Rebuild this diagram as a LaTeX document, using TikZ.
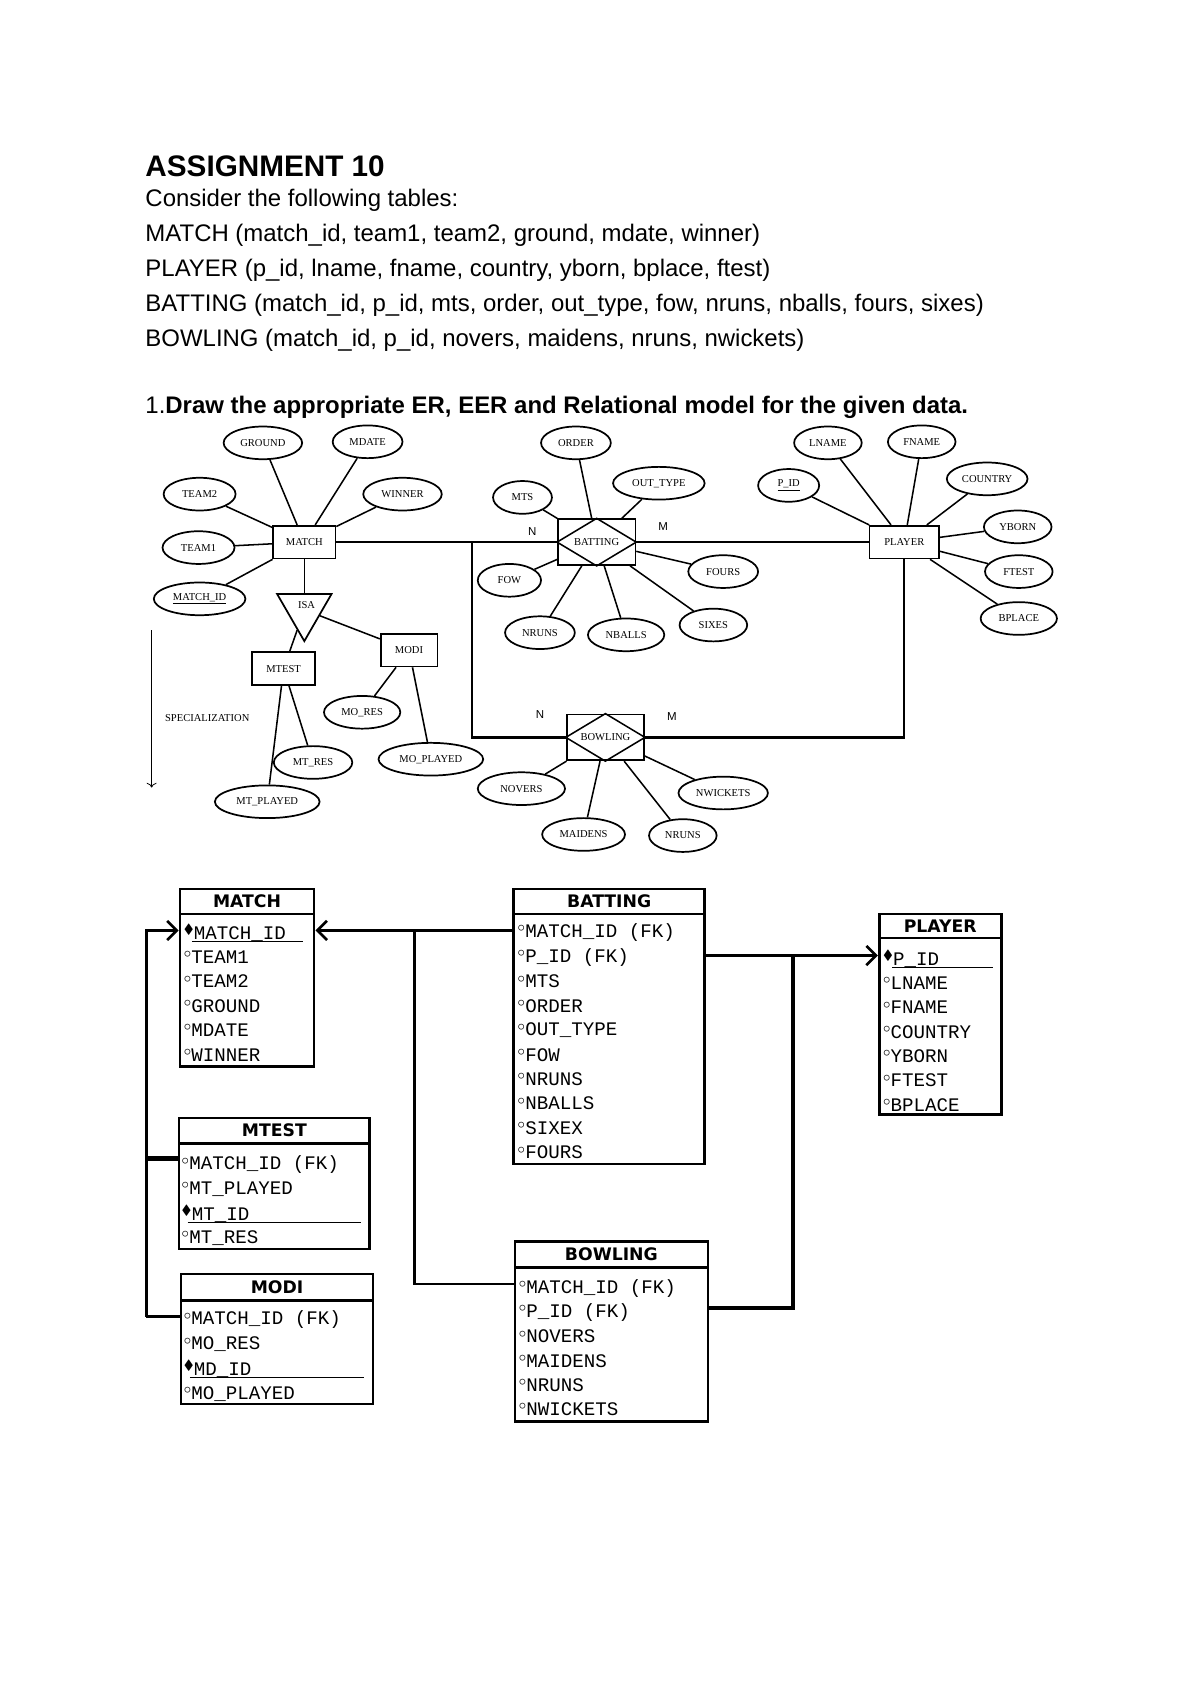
\documentclass[tikz,border=0pt]{standalone}
\usepackage{amssymb}
\usepackage{fontspec}
\setmainfont{Liberation Sans}
\newfontfamily\erfont{Liberation Serif}
\newfontfamily\colfont{Liberation Mono}
\newfontfamily\headfont{DejaVu Sans}
\usetikzlibrary{shapes.geometric,fit,arrows.meta}
\newcommand\keymk{\raisebox{3pt}{\scriptsize$\blacklozenge$}}
\newcommand\optmk{\raisebox{3pt}{\scriptsize$\circ$}}

\begin{document}
\begin{tikzpicture}[x=0.02cm, y=-0.02cm,
attr_style/.style={ellipse,draw=black,line width=0.9pt,minimum height=0.6cm,inner sep=1pt,font=\erfont\fontsize{5.5}{6}\selectfont},
ent_style/.style={rectangle,draw=black,line width=0.9pt,minimum height=0.6cm,font=\erfont\fontsize{5.5}{6}\selectfont},
rel_style/.style={rectangle,draw=black,line width=0.9pt,minimum width=1.42cm,minimum height=0.84cm,font=\erfont\fontsize{5.5}{6}\selectfont},
edge_style/.style={draw=black,line width=0.8pt},
card_style/.style={font=\fontsize{6}{7}\selectfont},
line_style/.style={anchor=west,inner sep=0pt,font=\fontsize{12.5}{14}\selectfont},
box_style/.style={draw=black,line width=1.4pt,inner sep=0pt},
title_style/.style={font=\headfont\bfseries\fontsize{9}{10}\selectfont},
row_style/.style={anchor=west,inner sep=0pt,font=\colfont\fontsize{10}{11}\selectfont},
link_style/.style={draw=black,line width=1.4pt},
tip_style/.style={-{Straight Barb[length=5pt,width=10pt,line width=1.4pt]}}]
\useasboundingbox (0,0) rectangle (1100,1553);

% question text
\node[line_style,font=\bfseries\fontsize{15.5}{17}\selectfont] (title) at (133,152) {ASSIGNMENT 10};
\node[line_style] (l1) at (133,184) {Consider the following tables:};
\node[line_style] (l2) at (133,216) {MATCH (match\_id, team1, team2, ground, mdate, winner)};
\node[line_style] (l3) at (133,248) {PLAYER (p\_id, lname, fname, country, yborn, bplace, ftest)};
\node[line_style] (l4) at (133,280) {BATTING (match\_id, p\_id, mts, order, out\_type, fow, nruns, nballs, fours, sixes)};
\node[line_style] (l5) at (133,312) {BOWLING (match\_id, p\_id, novers, maidens, nruns, nwickets)};
\node[line_style] (q1) at (133,373) {1.\textbf{Draw the appropriate ER, EER and Relational model for the given data.}};

% ER / EER model
\node[ent_style,minimum width=1.14cm] (match) at (279,497) {MATCH};
\node[attr_style,minimum width=1.44cm] (ground) at (241,406) {GROUND};
\node[attr_style,minimum width=1.28cm] (mdate) at (337,405) {MDATE};
\node[attr_style,minimum width=1.32cm] (team2) at (183,453) {TEAM2};
\node[attr_style,minimum width=1.44cm] (winner) at (369,453) {WINNER};
\node[attr_style,minimum width=1.32cm] (team1) at (182,502) {TEAM1};
\node[attr_style,minimum width=1.68cm] (matchid) at (183,549) {\underline{MATCH\_ID}};
\node[draw=black,line width=0.9pt,regular polygon,regular polygon sides=3,shape border rotate=180,minimum size=1.15cm,inner sep=0pt,font=\erfont\fontsize{5.5}{6}\selectfont] (isa) at (279,559) {};
\node[font=\erfont\fontsize{5.5}{6}\selectfont] (isalbl) at (281,555) {ISA};
\node[ent_style,minimum width=1.16cm] (mtest) at (260,613) {MTEST};
\node[ent_style,minimum width=1.04cm] (modi) at (375,596) {MODI};
\node[attr_style,minimum width=1.4cm] (mores) at (332,653) {MO\_RES};
\node[attr_style,minimum width=1.92cm] (moplayed) at (395,696) {MO\_PLAYED};
\node[attr_style,minimum width=1.44cm] (mtres) at (287,699) {MT\_RES};
\node[attr_style,minimum width=1.92cm] (mtplayed) at (245,735) {MT\_PLAYED};
\coordinate (sp1) at (139,578);
\coordinate (sp2) at (139,722);
\node[font=\erfont\fontsize{5.5}{6}\selectfont] (spec) at (190,658) {SPECIALIZATION};

\node[rel_style] (bat) at (547,497) {BATTING};
\node[attr_style,minimum width=1.28cm] (order) at (528,406) {ORDER};
\node[attr_style,minimum width=1.68cm] (outtype) at (604,443) {OUT\_TYPE};
\node[attr_style,minimum width=1.08cm] (mts) at (479,456) {MTS};
\node[attr_style,minimum width=1.16cm] (fow) at (467,532) {FOW};
\node[attr_style,minimum width=1.28cm] (bnruns) at (495,580) {NRUNS};
\node[attr_style,minimum width=1.4cm] (nballs) at (574,582) {NBALLS};
\node[attr_style,minimum width=1.24cm] (sixes) at (654,573) {SIXES};
\node[attr_style,minimum width=1.28cm] (fours) at (663,524) {FOURS};
\node[card_style] (bn) at (488,487) {N};
\node[card_style] (bm) at (608,483) {M};

\node[ent_style,minimum width=1.28cm] (player) at (829,497) {PLAYER};
\node[attr_style,minimum width=1.12cm] (pid) at (723,445) {\underline{P\_ID}};
\node[attr_style,minimum width=1.24cm] (lname) at (759,406) {LNAME};
\node[attr_style,minimum width=1.24cm] (fname) at (845,405) {FNAME};
\node[attr_style,minimum width=1.48cm] (country) at (905,439) {COUNTRY};
\node[attr_style,minimum width=1.24cm] (yborn) at (933,483) {YBORN};
\node[attr_style,minimum width=1.24cm] (ftest) at (934,524) {FTEST};
\node[attr_style,minimum width=1.4cm] (bplace) at (934,567) {BPLACE};

\node[rel_style] (bowl) at (555,676) {BOWLING};
\node[attr_style,minimum width=1.6cm] (novers) at (478,723) {NOVERS};
\node[attr_style,minimum width=1.52cm] (maidens) at (535,765) {MAIDENS};
\node[attr_style,minimum width=1.24cm] (wnruns) at (626,766) {NRUNS};
\node[attr_style,minimum width=1.64cm] (nwickets) at (663,727) {NWICKETS};
\node[card_style] (wn) at (495,655) {N};
\node[card_style] (wm) at (616,657) {M};
\coordinate (j1) at (433,497);
\coordinate (j2) at (433,676);

\draw[edge_style] (bat.north) -- (bat.east) -- (bat.south) -- (bat.west) -- cycle;
\draw[edge_style] (bowl.north) -- (bowl.east) -- (bowl.south) -- (bowl.west) -- cycle;
\foreach \a in {ground,mdate,team2,winner,team1,matchid}
  \draw[edge_style] (match) -- (\a);
\foreach \a in {order,outtype,mts,fow,bnruns,nballs,sixes,fours}
  \draw[edge_style] (bat) -- (\a);
\foreach \a in {pid,lname,fname,country,yborn,ftest,bplace}
  \draw[edge_style] (player) -- (\a);
\foreach \a in {novers,maidens,wnruns,nwickets}
  \draw[edge_style] (bowl) -- (\a);
\draw[edge_style] (match) -- (isa);
\draw[edge_style] (isa) -- (mtest);
\draw[edge_style] (isa) -- (modi);
\draw[edge_style] (mtest) -- (mtres);
\draw[edge_style] (mtest) -- (mtplayed);
\draw[edge_style] (modi) -- (mores);
\draw[edge_style] (modi) -- (moplayed);
\draw[->,thin] (sp1) -- (sp2);
\draw[edge_style] (match) -- (bat);
\draw[edge_style] (bat) -- (player);
\draw[edge_style,line width=1.2pt] (j1) -- (j2) -- (bowl.west);
\draw[edge_style,line width=1.2pt] (player) -- (player |- bowl) -- (bowl.east);

% relational model
\node[box_style,fit={(165,815)(288,838)}] (mt-h) {};
\node[box_style,fit={(165,838)(288,978)}] (mt-b) {};
\node[title_style] at (mt-h) {MATCH};
\foreach \m/\t [count=\i] in {\keymk/MATCH\_ID,\optmk/TEAM1,\optmk/TEAM2,\optmk/GROUND,\optmk/MDATE,\optmk/WINNER}
  \node[row_style] (mt\i) at (168,{855+22.4*(\i-1)}) {\m\t};

\node[box_style,fit={(471,815)(646,838)}] (bt-h) {};
\node[box_style,fit={(471,838)(646,1067)}] (bt-b) {};
\node[title_style] at (bt-h) {BATTING};
\foreach \m/\t [count=\i] in {\optmk/MATCH\_ID (FK),\optmk/P\_ID (FK),\optmk/MTS,\optmk/ORDER,\optmk/OUT\_TYPE,\optmk/FOW,\optmk/NRUNS,\optmk/NBALLS,\optmk/SIXEX,\optmk/FOURS}
  \node[row_style] (bt\i) at (474,{855+22.4*(\i-1)}) {\m\t};

\node[box_style,fit={(806,838)(918,860)}] (pl-h) {};
\node[box_style,fit={(806,860)(918,1022)}] (pl-b) {};
\node[title_style] at (pl-h) {PLAYER};
\foreach \m/\t [count=\i] in {\keymk/P\_ID,\optmk/LNAME,\optmk/FNAME,\optmk/COUNTRY,\optmk/YBORN,\optmk/FTEST,\optmk/BPLACE}
  \node[row_style] (pl\i) at (809,{879+22.3*(\i-1)}) {\m\t};

\node[box_style,fit={(164,1025)(339,1048)}] (te-h) {};
\node[box_style,fit={(164,1048)(339,1145)}] (te-b) {};
\node[title_style] at (te-h) {MTEST};
\foreach \m/\t [count=\i] in {\optmk/MATCH\_ID (FK),\optmk/MT\_PLAYED,\keymk/MT\_ID,\optmk/MT\_RES}
  \node[row_style] (te\i) at (166,{1068+22.4*(\i-1)}) {\m\t};

\node[box_style,fit={(166,1168)(342,1192)}] (mo-h) {};
\node[box_style,fit={(166,1192)(342,1287)}] (mo-b) {};
\node[title_style] at (mo-h) {MODI};
\foreach \m/\t [count=\i] in {\optmk/MATCH\_ID (FK),\optmk/MO\_RES,\keymk/MD\_ID,\optmk/MO\_PLAYED}
  \node[row_style] (mo\i) at (168,{1210+22.6*(\i-1)}) {\m\t};

\node[box_style,fit={(472,1138)(649,1162)}] (bw-h) {};
\node[box_style,fit={(472,1162)(649,1303)}] (bw-b) {};
\node[title_style] at (bw-h) {BOWLING};
\foreach \m/\t [count=\i] in {\optmk/MATCH\_ID (FK),\optmk/P\_ID (FK),\optmk/NOVERS,\optmk/MAIDENS,\optmk/NRUNS,\optmk/NWICKETS}
  \node[row_style] (bw\i) at (475,{1181+22.2*(\i-1)}) {\m\t};

% key underlines
\draw[thin] (176,863) -- (278,863);
\draw[thin] (172,1121) -- (331,1121);
\draw[thin] (174,1263) -- (334,1263);
\draw[thin] (818,887) -- (910,887);

% foreign key links
\coordinate (k1) at (134,853);
\coordinate (k2) at (134,1062);
\coordinate (k3) at (134,1207);
\coordinate (k4) at (380,853);
\coordinate (k5) at (380,1177);
\coordinate (k6) at (727,876);
\coordinate (k7) at (727,1199);
\draw[link_style,tip_style] (k3) -- (k1) -- (mt-b.west |- k1);
\draw[link_style] (k3) -- (mo-b.west |- k3);
\draw[link_style,line width=2.2pt] (k2) -- (te-b.west |- k2);
\draw[link_style,tip_style] (bt-b.west |- k4) -- (mt-b.east |- k4);
\draw[link_style] (k4) -- (k5) -- (bw-b.west |- k5);
\draw[link_style,tip_style] (bt-b.east |- k6) -- (pl-b.west |- k6);
\draw[link_style,line width=2.2pt] (k6) -- (k7) -- (bw-b.east |- k7);
\end{tikzpicture}
\end{document}
